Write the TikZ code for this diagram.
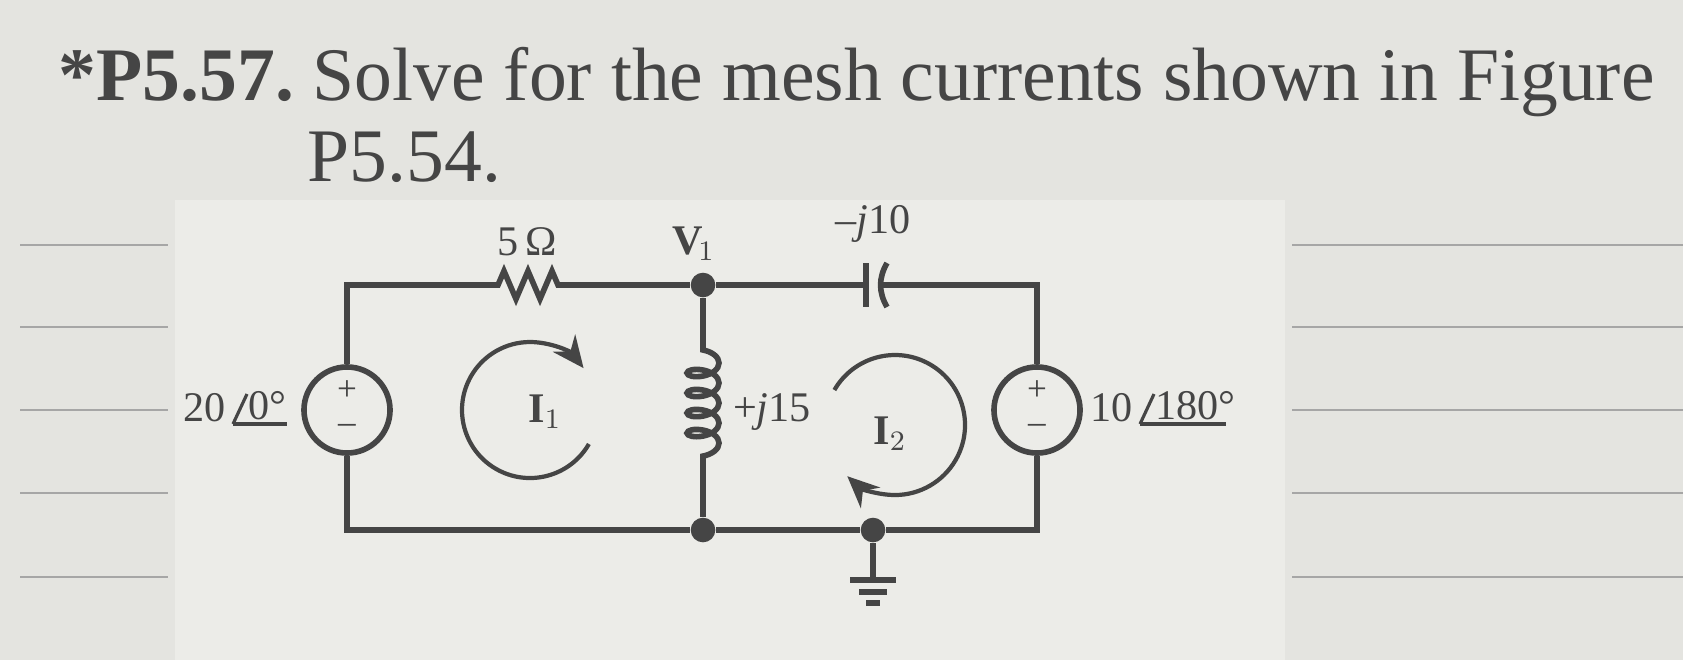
\documentclass[tikz,border=0pt]{standalone}
\usepackage{fontspec}
\setmainfont{Liberation Serif}
\usetikzlibrary{decorations.pathmorphing,arrows.meta}
\definecolor{ink}{HTML}{454545}
\definecolor{page}{HTML}{E4E4E0}
\definecolor{panel}{HTML}{ECECE8}
\tikzset{wire/.style={ink,line width=1.6pt},
 lbl/.style={text=ink,font=\fontsize{12}{14}\selectfont,inner sep=1pt},
 sgn/.style={text=ink,font=\fontsize{10}{10}\selectfont,inner sep=0pt},
 dotn/.style={circle,fill=ink,inner sep=0pt,minimum size=7pt},
 src/.style={circle,draw=ink,line width=1.6pt,minimum size=0.86cm,inner sep=0pt},
 mesh/.style={ink,line width=1.2pt,-{Stealth[length=9pt,width=8pt]}}}
\begin{document}
\begin{tikzpicture}[x=0.01cm,y=-0.01cm]
\useasboundingbox (0,0) rectangle (1683,660);
\fill[page] (0,0) rectangle (1683,660);
\fill[panel] (175,200) rectangle (1285,660);
\foreach \y in {245,327,410,493,577}{
 \draw[gray!70,line width=0.6pt] (20,\y) -- (168,\y);
 \draw[gray!70,line width=0.6pt] (1292,\y) -- (1683,\y);}
\node[anchor=west,text=ink,font=\fontsize{21.5}{26}\selectfont,inner sep=0pt] (t1) at (58,82) {\textbf{*P5.57.}\ Solve for the mesh currents shown in Figure};
\node[anchor=west,text=ink,font=\fontsize{21.5}{26}\selectfont,inner sep=0pt] (t2) at (307,157) {P5.54.};
% nodes
\coordinate (tl) at (347,285); \coordinate (bl) at (347,530);
\coordinate (tr) at (1037,285); \coordinate (br) at (1037,530);
\node[dotn] (v1) at (703,285) {};
\node[dotn] (b1) at (703,530) {};
\node[dotn] (g) at (873,530) {};
\node[src] (s1) at (347,410) {};
\node[src] (s2) at (1037,410) {};
\coordinate (r1) at (493,285); \coordinate (r2) at (565,285);
\coordinate (c1) at (866,285); \coordinate (c2) at (881,285);
\coordinate (l1) at (703,345); \coordinate (l2) at (703,472);
\coordinate (gnd) at (873,580);
% wires
\draw[wire] (s1.north) -- (tl) -- (r1);
\draw[wire] (r1) -- ++(5,0) -- ++(6,-14) -- ++(12,28) -- ++(12,-28) -- ++(12,28) -- ++(12,-28) -- ++(6,14) -- (r2);
\draw[wire] (r2) -- (v1) -- (c1);
\draw[wire] (c1) ++(0,-22) -- ++(0,44);
\draw[wire] (c2) ++(6,-22) to[bend right=30] ++(0,44);
\draw[wire] (c2) -- (tr) -- (s2.north);
\draw[wire] (s2.south) -- (br) -- (g) -- (b1) -- (bl) -- (s1.south);
\draw[wire] (v1) -- (l1);
\draw[wire,decorate,decoration={coil,segment length=0.2cm,amplitude=0.16cm,aspect=0.5,pre length=0.05cm,post length=0.05cm}] (l1) -- (l2);
\draw[wire] (l2) -- (b1);
\draw[wire] (g) -- (gnd);
\draw[wire] (850,580) -- (896,580);
\draw[wire] (859,592) -- (887,592);
\draw[wire] (866,603) -- (880,603);
% source signs
\node[sgn] (p1) at (347,391) {+};
\node[sgn] (m1) at (347,429) {–};
\node[sgn] (p2) at (1037,391) {+};
\node[sgn] (m2) at (1037,429) {–};
% labels
\node[lbl] (lr) at (527,242) {5\,Ω};
\node[lbl] (lv) at (694,244) {$\mathbf{V}_{\!1}$};
\node[lbl] (lc) at (873,224) {–\textit{j}10};
\node[lbl] (ll) at (772,412) {+\textit{j}15};
\node[lbl] (li1) at (545,412) {$\mathbf{I}_1$};
\node[lbl] (li2) at (890,434) {$\mathbf{I}_2$};
\node[lbl,anchor=east] (a20) at (230,408) {20};
\node[lbl,anchor=west] (a0) at (244,406) {0°};
\draw[ink,line width=0.9pt] (233,424) coordinate (u1) -- ++(54,0);
\draw[ink,line width=0.9pt] (u1) -- ++(14,-30);
\node[lbl,anchor=east] (a10) at (1137,408) {10};
\node[lbl,anchor=west] (a180) at (1151,406) {180°};
\draw[ink,line width=0.9pt] (1140,424) coordinate (u2) -- ++(86,0);
\draw[ink,line width=0.9pt] (u2) -- ++(14,-30);
% mesh arrows
\draw[mesh] (530,410) ++(30:68) arc[start angle=30,end angle=322,radius=68];
\draw[mesh] (895,425) ++(-150:70) arc[start angle=-150,end angle=133,radius=70];
\end{tikzpicture}
\end{document}
